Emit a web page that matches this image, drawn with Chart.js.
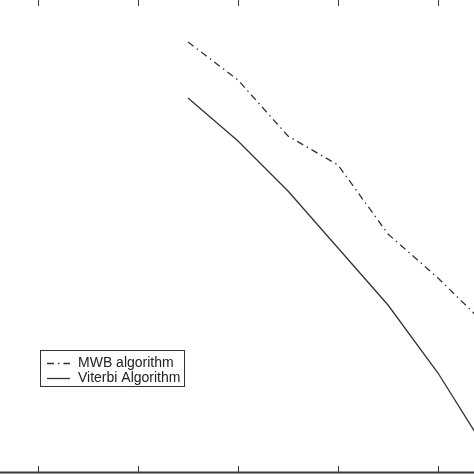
<!DOCTYPE html>
<html>
<head>
<meta charset="utf-8">
<script src="https://cdn.jsdelivr.net/npm/chart.js@4"></script>
<style>
html,body{margin:0;padding:0;background:#fff;overflow:hidden;}
#wrap{position:relative;width:474px;height:474px;}
</style>
</head>
<body>
<div id="wrap"><canvas id="c" width="474" height="474"></canvas></div>
<script>
// x positions of the points (SNR-like units)
const xValues = [3, 4, 5, 6, 7, 8, 9];
// Series values (arbitrary axis units)
const mwbValues = [4.31, 3.93, 3.37, 3.08, 2.39, 1.95, 1.46];
const viterbiValues = [3.75, 3.32, 2.82, 2.25, 1.68, 1.00, 0.20];
const seriesLabels = ['MWB algorithm', 'Viterbi Algorithm'];
const xTickValues = [0, 2, 4, 6, 8];

const frameColor = '#3a3a3a';

const framePlugin = {
  id: 'matlabFrame',
  afterDraw(chart) {
    const ctx = chart.ctx;
    const xs = chart.scales.x;
    const a = chart.chartArea;
    ctx.save();
    ctx.strokeStyle = frameColor;
    // bottom axis line
    ctx.lineWidth = 2;
    ctx.beginPath();
    ctx.moveTo(0, a.bottom - 0.5);
    ctx.lineTo(chart.width, a.bottom - 0.5);
    ctx.stroke();
    // inward ticks top & bottom
    ctx.lineWidth = 1;
    xTickValues.forEach(v => {
      const px = Math.round(xs.getPixelForValue(v)) + 0.5;
      ctx.beginPath();
      ctx.moveTo(px, a.bottom - 1);
      ctx.lineTo(px, a.bottom - 7);
      ctx.stroke();
      ctx.beginPath();
      ctx.moveTo(px, a.top);
      ctx.lineTo(px, a.top + 6);
      ctx.stroke();
    });
    // legend box
    const bx = 40.5, by = 350.5, bw = 144, bh = 36;
    ctx.fillStyle = '#fff';
    ctx.fillRect(bx, by, bw, bh);
    ctx.strokeStyle = '#333';
    ctx.lineWidth = 1;
    ctx.strokeRect(bx, by, bw, bh);
    const rows = [363, 378];
    chart.data.datasets.forEach((ds, i) => {
      ctx.strokeStyle = ds.borderColor;
      ctx.lineWidth = ds.borderWidth;
      ctx.setLineDash(ds.borderDash || []);
      ctx.beginPath();
      ctx.moveTo(47, rows[i] + 0.5);
      ctx.lineTo(70, rows[i] + 0.5);
      ctx.stroke();
      ctx.setLineDash([]);
      ctx.fillStyle = '#222';
      ctx.font = '14px "Liberation Sans", Arial, sans-serif';
      ctx.textBaseline = 'middle';
      ctx.fillText(ds.label, 78, rows[i] + 0.5);
    });
    ctx.restore();
  }
};

new Chart(document.getElementById('c'), {
  type: 'line',
  data: {
    datasets: [
      {
        label: seriesLabels[0],
        data: xValues.map((x, i) => ({x: x, y: mwbValues[i]})),
        borderColor: '#333',
        borderWidth: 1.3,
        borderDash: [7, 4, 1.5, 4],
        pointRadius: 0,
        tension: 0,
        fill: false
      },
      {
        label: seriesLabels[1],
        data: xValues.map((x, i) => ({x: x, y: viterbiValues[i]})),
        borderColor: '#333',
        borderWidth: 1.3,
        pointRadius: 0,
        tension: 0,
        fill: false
      }
    ]
  },
  options: {
    responsive: false,
    animation: false,
    devicePixelRatio: 1,
    layout: {padding: {top: 0, left: 0, right: 0, bottom: 1}},
    plugins: {legend: {display: false}, tooltip: {enabled: false}},
    scales: {
      x: {type: 'linear', min: -0.76, max: 8.72, display: false},
      y: {type: 'linear', min: 0, max: 4.73, display: false}
    }
  },
  plugins: [framePlugin]
});
</script>
</body>
</html>
